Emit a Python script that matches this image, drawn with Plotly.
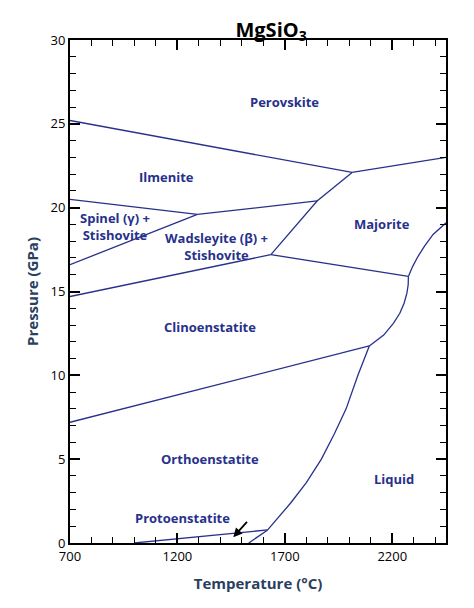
import plotly.graph_objects as go

C = "#27318b"
boundaries = {
    "pv_il": ([700, 2013], [25.2, 22.1]),
    "pv_mj": ([2013, 2450], [22.1, 23.0]),
    "il_mj": ([2013, 1850, 1635], [22.1, 20.4, 17.2]),
    "il_wd": ([1293, 1850], [19.6, 20.4]),
    "il_sp": ([700, 1293], [20.5, 19.6]),
    "sp_wd": ([700, 1293], [16.6, 19.6]),
    "wd_cl": ([700, 1635], [14.7, 17.2]),
    "cl_mj": ([1635, 2275], [17.2, 15.9]),
    "mj_liq": ([2275, 2295, 2320, 2350, 2390, 2430, 2450], [15.9, 16.5, 17.1, 17.7, 18.4, 18.9, 19.1]),
    "cl_liq": ([2275, 2274, 2268, 2255, 2235, 2205, 2160, 2093],
               [15.9, 15.4, 14.9, 14.3, 13.7, 13.1, 12.4, 11.75]),
    "cl_or": ([700, 2093], [7.2, 11.75]),
    "or_liq": ([2093, 2040, 1985, 1930, 1870, 1800, 1728, 1670, 1620],
               [11.75, 10.0, 8.0, 6.5, 5.0, 3.6, 2.4, 1.5, 0.78]),
    "pr_or": ([1000, 1620], [0.0, 0.78]),
    "pr_liq": ([1620, 1532], [0.78, 0.0]),
}
labels = [
    ("Perovskite", 1700, 26.3), ("Ilmenite", 1150, 21.8), ("Majorite", 2150, 19.0),
    ("Spinel (γ) +<br>Stishovite", 910, 18.9), ("Wadsleyite (β) +<br>Stishovite", 1380, 17.7),
    ("Clinoenstatite", 1350, 12.9), ("Orthoenstatite", 1350, 5.0), ("Liquid", 2210, 3.8),
    ("Protoenstatite", 1225, 1.5),
]

fig = go.Figure()
for k, (x, y) in boundaries.items():
    fig.add_trace(go.Scatter(x=x, y=y, mode="lines", line=dict(color=C, width=1.3), hoverinfo="skip"))
# invisible trace for minor-tick overlay axes
fig.add_trace(go.Scatter(x=[700], y=[0], xaxis="x2", yaxis="y2", mode="markers",
                         marker=dict(opacity=0), hoverinfo="skip"))
for t, x, y in labels:
    fig.add_annotation(x=x, y=y, text=t, showarrow=False,
                       font=dict(family="Open Sans", size=13, color=C, weight="bold"))
fig.add_annotation(x=1460, y=0.35, ax=1530, ay=1.35, axref="x", ayref="y", text="",
                   showarrow=True, arrowhead=2, arrowsize=1, arrowwidth=1.8, arrowcolor="black")

ax_common = dict(showline=True, linecolor="black", linewidth=2, mirror="ticks", ticks="inside",
                 ticklen=10, tickwidth=1.5, tickcolor="black", showgrid=False, zeroline=False,
                 tickfont=dict(family="Open Sans", size=13, color="black"))
minor_common = dict(showline=False, ticks="inside", ticklen=6, tickwidth=1.2, tickcolor="black",
                    mirror="ticks", showticklabels=False, showgrid=False, zeroline=False)
fig.update_layout(
    xaxis=dict(range=[700, 2450], dtick=500, tick0=700,
               title=dict(text="Temperature (°C)", font=dict(family="Open Sans", size=15, weight="bold")),
               **ax_common),
    yaxis=dict(range=[0, 30], dtick=5,
               title=dict(text="Pressure (GPa)", font=dict(family="Open Sans", size=15, weight="bold"), standoff=8),
               **ax_common),
    xaxis2=dict(range=[700, 2450], dtick=100, tick0=700, overlaying="x", anchor="y2", **minor_common),
    yaxis2=dict(range=[0, 30], dtick=1, overlaying="y", anchor="x2", **minor_common),
    width=474, height=608, showlegend=False, plot_bgcolor="white", paper_bgcolor="white",
    margin=dict(l=62, r=36, t=32, b=73),
    title=dict(text="MgSiO<sub>3</sub>", x=0.555, y=0.975, xanchor="center",
               font=dict(family="Open Sans", size=20, color="black", weight="bold")))
fig.write_html("out.html")
